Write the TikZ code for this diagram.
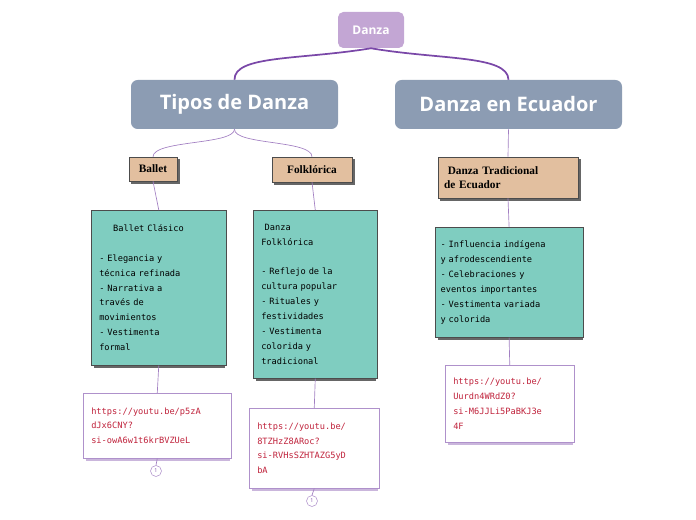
\documentclass[tikz,border=0pt]{standalone}
\usepackage{fontspec}
\setmainfont{Open Sans}
\newfontfamily\tagfont{Liberation Serif}
\newfontfamily\notefont{DejaVu Sans Mono}
\usetikzlibrary{positioning}
\definecolor{lila}{HTML}{C3A6D4}
\definecolor{lilaline}{HTML}{7A48A8}
\definecolor{grisazul}{HTML}{8C9CB3}
\definecolor{arena}{HTML}{E2BF9F}
\definecolor{verdeagua}{HTML}{7FCDC0}
\definecolor{rojo}{HTML}{C0233C}
\tikzset{
  root/.style={rectangle, rounded corners=4pt, fill=lila, text=white, font=\bfseries\small, minimum width=66*0.75pt, minimum height=36*0.75pt},
  topic/.style={rectangle, rounded corners=5pt, fill=grisazul, text=white, font=\fontsize{15}{18}\selectfont\bfseries, minimum height=49*0.75pt},
  tagbox/.style={rectangle, draw=black!70, fill=arena, font=\tagfont\bfseries\fontsize{8.5}{10.5}\selectfont, inner sep=3pt},
  notebox/.style={rectangle, draw=black!70, fill=verdeagua, font=\notefont\fontsize{6.5}{11.2}\selectfont, align=left, anchor=north west, inner xsep=6pt, inner ysep=8pt},
  linkbox/.style={rectangle, draw=lilaline!60, fill=white, text=rojo, font=\notefont\fontsize{6.5}{11.2}\selectfont\color{rojo}, align=left, anchor=north west, inner xsep=6pt, inner ysep=8pt},
  shade/.style={fill=black!60},
  thinline/.style={lilaline!70, line width=0.5pt},
  thickline/.style={lilaline, line width=1.3pt}
}
\begin{document}
\begin{tikzpicture}[x=0.75pt, y=-0.75pt]
\useasboundingbox (0,0) rectangle (696,520);
% --- Root and main topics ---
\node[root] (Danza) at (371,30) {Danza};
\node[topic, minimum width=207*0.75pt] (Tipos) at (234.5,104.5) {Tipos de Danza};
\node[topic, minimum width=227*0.75pt] (Ecuador) at (508.5,104.5) {Danza en Ecuador};
\draw[thickline] (Danza.south) .. controls (300,60) and (234,55) .. (Tipos.north);
\draw[thickline] (Danza.south) .. controls (440,60) and (508,55) .. (Ecuador.north);
% --- Tags (with shadow) ---
\fill[shade] (131,159) rectangle (180,184);
\node[tagbox, minimum width=48*0.75pt, minimum height=24*0.75pt] (Ballet) at (153,169) {Ballet};
\fill[shade] (274,159) rectangle (355,185);
\node[tagbox, minimum width=80*0.75pt, minimum height=25*0.75pt] (Folk) at (312,169.5) {Folkl\'orica};
\fill[shade] (440,159) rectangle (581,201);
\node[tagbox, minimum width=140*0.75pt, minimum height=41*0.75pt, text width=128*0.75pt, align=left] (Trad) at (508,177.5) {\ Danza Tradicional\\de Ecuador};
\draw[thinline] (Tipos.south) .. controls (234,145) and (153,140) .. (Ballet.north);
\draw[thinline] (Tipos.south) .. controls (234,145) and (312,140) .. (Folk.north);
\draw[thinline] (Ecuador.south) -- (Trad.north);
% --- Notes ---
\fill[shade] (94,213) rectangle (225,368);
\node[notebox, text width=119*0.75pt, minimum height=155*0.75pt] (Clasico) at (91,210)
  {\hspace*{1.6em}Ballet Cl\'asico\\[11pt]- Elegancia y\\t\'ecnica refinada\\- Narrativa a\\trav\'es de\\movimientos\\- Vestimenta\\formal};
\fill[shade] (256,213) rectangle (376,381);
\node[notebox, text width=108*0.75pt, minimum height=168*0.75pt] (FolkNote) at (253,210)
  {\hspace*{0.4em}Danza\\Folkl\'orica\\[11pt]- Reflejo de la\\cultura popular\\- Rituales y\\festividades\\- Vestimenta\\colorida y\\tradicional};
\fill[shade] (438,230) rectangle (583,340);
\node[notebox, text width=137*0.75pt, minimum height=110*0.75pt, inner xsep=4pt] (EcuNote) at (435,227)
  {- Influencia ind\'igena\\y afrodescendiente\\- Celebraciones y\\eventos importantes\\- Vestimenta variada\\y colorida};
\draw[thinline] (Ballet.south) -- (Clasico.north);
\draw[thinline] (Folk.south) -- (FolkNote.north);
\draw[thinline] (Trad.south) -- (EcuNote.north);
% --- Links ---
\fill[lilaline!40] (86,396) rectangle (230,461);
\node[linkbox, text width=132*0.75pt, minimum height=65*0.75pt] (Link1) at (83,393)
  {https://youtu.be/p5zA\\dJx6CNY?\\si-owA6w1t6krBVZUeL};
\fill[lilaline!40] (252,411) rectangle (378,491);
\node[linkbox, text width=114*0.75pt, minimum height=80*0.75pt] (Link2) at (249,408)
  {https://youtu.be/\\8TZHzZ8ARoc?\\si-RVHsSZHTAZG5yD\\bA};
\fill[lilaline!40] (448,368) rectangle (573,445);
\node[linkbox, text width=113*0.75pt, minimum height=77*0.75pt] (Link3) at (445,365)
  {https://youtu.be/\\Uurdn4WRdZ0?\\si-M6JJLi5PaBKJ3e\\4F};
\draw[thinline] (Clasico.south) -- (Link1.north);
\draw[thinline] (FolkNote.south) -- (Link2.north);
\draw[thinline] (EcuNote.south) -- (Link3.north);
% --- Counters ---
\node[circle, draw=lilaline!60, fill=white, text=lilaline, inner sep=0pt, minimum size=11*0.75pt, font=\fontsize{4}{4}\selectfont] (Num1) at (156,471) {1};
\node[circle, draw=lilaline!60, fill=white, text=lilaline, inner sep=0pt, minimum size=11*0.75pt, font=\fontsize{4}{4}\selectfont] (Num2) at (312,501) {1};
\draw[thinline] (Link1.south) -- (Num1.north);
\draw[thinline] (Link2.south) -- (Num2.north);
\end{tikzpicture}
\end{document}
